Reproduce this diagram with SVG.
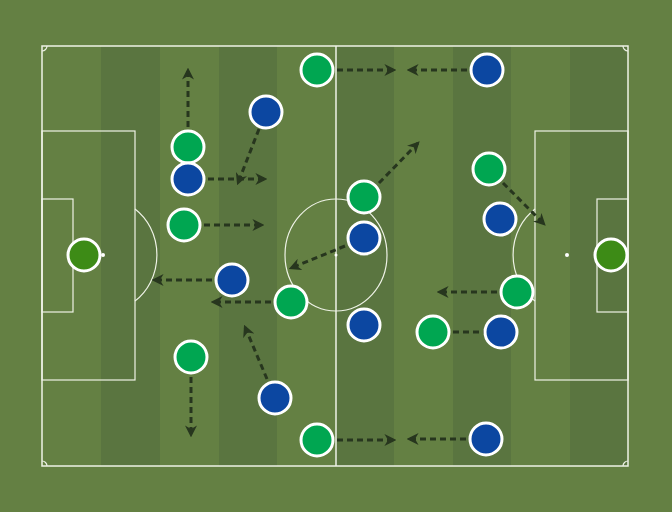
<svg xmlns="http://www.w3.org/2000/svg" width="672" height="512" viewBox="0 0 672 512">
<defs>
<style>
.ln{fill:none;stroke:#eef2e6;stroke-width:1.5}
.in{fill:none;stroke:#eef2e6;stroke-width:1.2}
.mv{fill:none;stroke:#27361e;stroke-width:3;stroke-dasharray:6 4;marker-end:url(#ah)}
.nm{fill:none;stroke:#27361e;stroke-width:3;stroke-dasharray:6 4}
.g circle{fill:#00a651;stroke:#fff;stroke-width:3}
.b circle{fill:#0c47a1;stroke:#fff;stroke-width:3}
.k circle{fill:#3d8b16;stroke:#fff;stroke-width:3}
.spot{fill:#fff}
</style>
<marker id="ah" viewBox="0 0 10 10" refX="8" refY="5" markerWidth="4" markerHeight="4" orient="auto" markerUnits="strokeWidth">
<path d="M0,0 L10,5 L0,10 L3,5 z" fill="#27361e"/>
</marker>
</defs>
<rect width="672" height="512" fill="#648043"/>
<g id="stripes" fill="#5a7540">
<rect x="101" y="46" width="59" height="420"/>
<rect x="219" y="46" width="58" height="420"/>
<rect x="336" y="46" width="58" height="420"/>
<rect x="453" y="46" width="58" height="420"/>
<rect x="570" y="46" width="58" height="420"/>
</g>
<g id="pitch">
<rect class="ln" x="42" y="46" width="586" height="420"/>
<line class="ln" x1="336" y1="46" x2="336" y2="466"/>
<ellipse class="in" cx="336" cy="255" rx="51" ry="56"/>
<circle class="spot" cx="336" cy="255" r="1.5"/>
<rect class="in" x="42" y="131" width="93" height="249"/>
<rect class="in" x="42" y="199" width="31" height="113"/>
<path class="in" d="M135,209 A51,56 0 0 1 135,301"/>
<circle class="spot" cx="103" cy="255" r="2"/>
<rect class="in" x="535" y="131" width="93" height="249"/>
<rect class="in" x="597" y="199" width="31" height="113"/>
<path class="in" d="M535,209 A51,56 0 0 0 535,301"/>
<circle class="spot" cx="567" cy="255" r="2"/>
<path class="in" d="M42,51 A5,5 0 0 0 47,46"/>
<path class="in" d="M623,46 A5,5 0 0 0 628,51"/>
<path class="in" d="M42,461 A5,5 0 0 1 47,466"/>
<path class="in" d="M623,466 A5,5 0 0 1 628,461"/>
</g>
<g id="connectors">
<line class="mv" x1="188" y1="127" x2="188" y2="70"/>
<line class="mv" x1="208" y1="179" x2="265" y2="179"/>
<line class="mv" x1="259" y1="129" x2="238" y2="183"/>
<line class="mv" x1="337" y1="70" x2="394" y2="70"/>
<line class="mv" x1="467" y1="70" x2="409" y2="70"/>
<line class="mv" x1="204" y1="225" x2="262" y2="225"/>
<line class="mv" x1="379" y1="183" x2="418" y2="143"/>
<line class="mv" x1="345" y1="246" x2="291" y2="268"/>
<line class="mv" x1="212" y1="280" x2="154" y2="280"/>
<line class="mv" x1="271" y1="302" x2="213" y2="302"/>
<line class="mv" x1="267" y1="379" x2="245" y2="327"/>
<line class="mv" x1="191" y1="377" x2="191" y2="435"/>
<line class="mv" x1="337" y1="440" x2="394" y2="440"/>
<line class="mv" x1="466" y1="439" x2="409" y2="439"/>
<line class="mv" x1="503" y1="183" x2="544" y2="224"/>
<line class="mv" x1="497" y1="292" x2="439" y2="292"/>
<line class="nm" x1="453" y1="332" x2="485" y2="332"/>
</g>
<g id="gk-left" class="k"><circle cx="84" cy="255" r="16"/></g>
<g id="gk-right" class="k"><circle cx="611" cy="255" r="16"/></g>
<g id="g1" class="g"><circle cx="188" cy="147" r="16"/></g>
<g id="b1" class="b"><circle cx="188" cy="179" r="16"/></g>
<g id="g2" class="g"><circle cx="184" cy="225" r="16"/></g>
<g id="b2" class="b"><circle cx="266" cy="112" r="16"/></g>
<g id="g3" class="g"><circle cx="317" cy="70" r="16"/></g>
<g id="b3" class="b"><circle cx="232" cy="280" r="16"/></g>
<g id="g4" class="g"><circle cx="291" cy="302" r="16"/></g>
<g id="g5" class="g"><circle cx="191" cy="357" r="16"/></g>
<g id="b4" class="b"><circle cx="275" cy="398" r="16"/></g>
<g id="g6" class="g"><circle cx="317" cy="440" r="16"/></g>
<g id="g7" class="g"><circle cx="364" cy="197" r="16"/></g>
<g id="b5" class="b"><circle cx="364" cy="238" r="16"/></g>
<g id="b6" class="b"><circle cx="364" cy="325" r="16"/></g>
<g id="b7" class="b"><circle cx="487" cy="70" r="16"/></g>
<g id="g8" class="g"><circle cx="489" cy="169" r="16"/></g>
<g id="b8" class="b"><circle cx="500" cy="219" r="16"/></g>
<g id="g9" class="g"><circle cx="517" cy="292" r="16"/></g>
<g id="g10" class="g"><circle cx="433" cy="332" r="16"/></g>
<g id="b9" class="b"><circle cx="501" cy="332" r="16"/></g>
<g id="b10" class="b"><circle cx="486" cy="439" r="16"/></g>
</svg>
